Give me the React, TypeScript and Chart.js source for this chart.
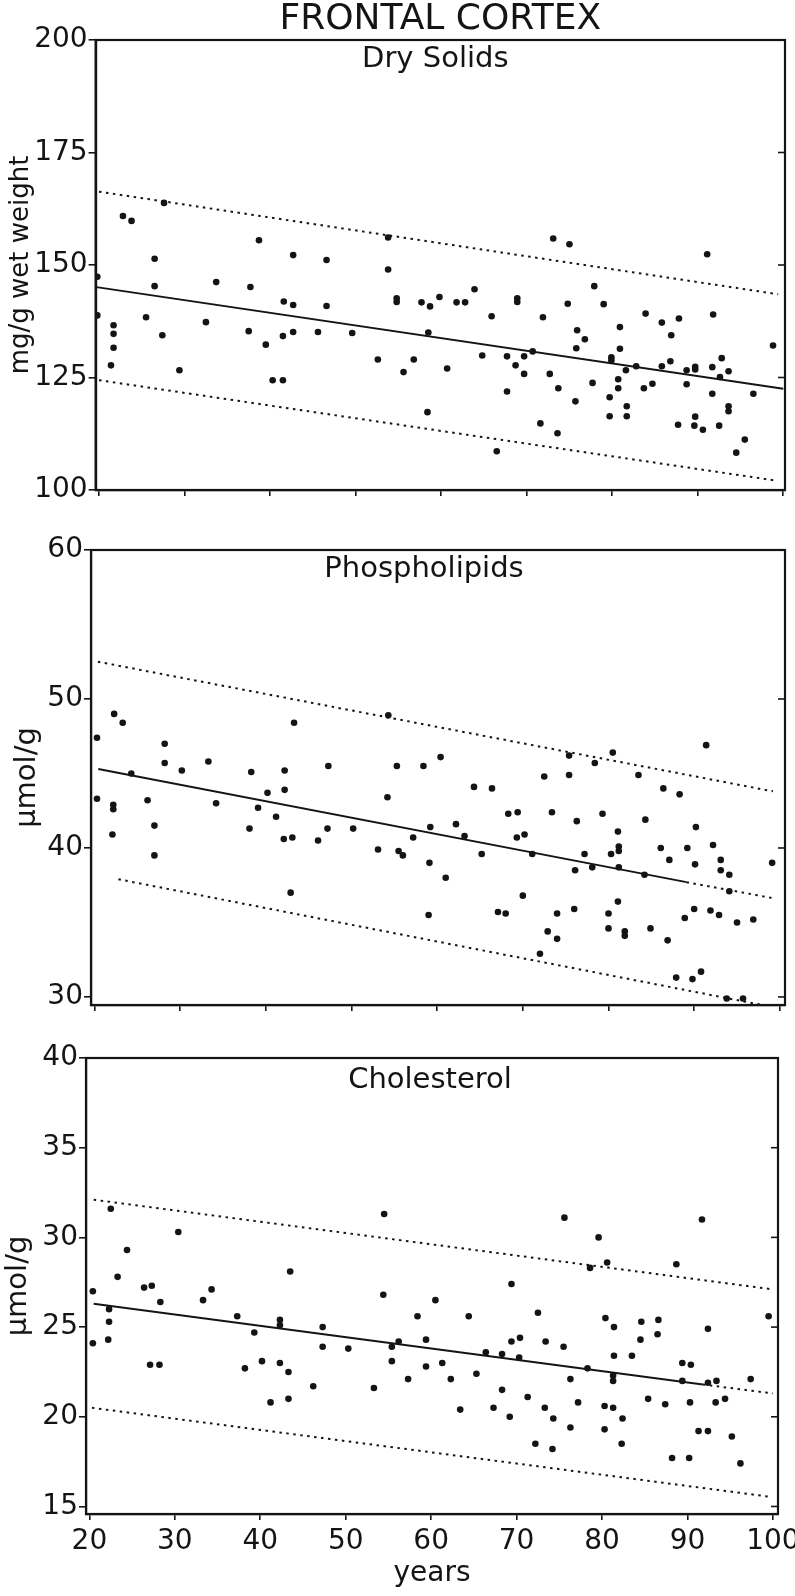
import React, { useEffect, useRef } from 'react';
import { Chart, registerables } from 'chart.js';

Chart.register(...registerables);

// ---------- tick labels ----------
const AGE_TICKS = [20, 30, 40, 50, 60, 70, 80, 90, 100];
const DRY_TICKS = [100, 125, 150, 175, 200];
const PHOS_TICKS = [30, 40, 50, 60];
const CHOL_TICKS = [15, 20, 25, 30, 35, 40];

// ---------- Dry Solids (mg/g wet weight) ----------
const dryAge = [
  19.8, 19.8, 21.7, 21.7, 21.7, 21.4, 22.8, 23.8, 27.6, 26.5, 26.5, 25.5, 27.4, 29.4, 32.5, 33.7,
  37.7, 37.5, 38.7, 39.5, 40.3, 41.5, 41.5, 41.6, 42.7, 42.7, 42.7, 45.6, 46.6, 46.6, 49.6, 52.6,
  53.8, 53.8, 54.8, 54.8, 57.7, 58.7, 59.8, 61.8, 62.8, 63.9, 65.9, 68.9, 68.9, 71.9, 73.1, 75.0,
  74.8, 77.9, 79.0, 91.1, 83.9, 85.8, 87.8, 91.8, 86.9, 80.9, 75.9, 76.8, 75.8, 80.9, 98.8, 58.5,
  56.8, 55.6, 60.7, 64.8, 67.7, 68.7, 69.7, 69.7, 70.7, 72.7, 73.7, 67.7, 77.7, 79.9, 79.9, 80.7,
  80.7, 79.7, 81.6, 75.7, 81.7, 81.7, 79.7, 82.8, 83.7, 84.7, 85.8, 86.8, 88.7, 88.7, 89.7, 89.7,
  91.7, 92.8, 93.6, 92.6, 91.7, 93.6, 93.6, 96.5, 89.7, 89.6, 90.6, 87.7, 92.5, 95.5, 94.5, 58.4,
  71.6, 73.6, 66.5,
];
const dryVal = [
  147.4, 138.8, 136.6, 134.7, 131.6, 127.7, 160.9, 159.8, 163.8, 151.4, 145.3, 138.4, 134.4, 126.6, 137.3, 146.2,
  145.1, 135.3, 155.5, 132.3, 124.4, 124.4, 134.2, 141.9, 141.1, 135.1, 152.2, 135.1, 151.1, 140.9, 134.9, 129.0,
  156.1, 149.0, 142.6, 141.8, 141.7, 140.8, 142.9, 141.7, 141.7, 144.6, 138.6, 142.6, 141.8, 138.4, 155.9, 154.6,
  141.4, 145.3, 141.3, 152.4, 139.2, 137.2, 138.1, 139.0, 134.4, 136.2, 135.5, 133.5, 131.5, 131.4, 132.1, 135.0,
  129.0, 126.2, 127.0, 129.9, 129.7, 127.7, 129.7, 125.8, 130.8, 125.8, 122.6, 121.9, 123.8, 129.5, 128.8, 124.6,
  122.6, 120.6, 126.6, 119.7, 118.6, 116.4, 116.4, 127.5, 122.6, 123.6, 127.5, 128.6, 126.6, 123.5, 127.4, 126.8,
  127.3, 129.3, 126.4, 125.1, 121.4, 118.6, 117.5, 121.4, 116.3, 114.3, 113.4, 114.5, 114.3, 111.2, 108.3, 117.3,
  114.8, 112.6, 108.6,
];
const dryFitAge = [19.7, 100];
const dryFit = [145.1, 122.5];
const dryUpperAge = [20, 99.4];
const dryUpper = [166.3, 143.5];
const dryLowerAge = [20, 99.1];
const dryLower = [124.4, 102.1];

// ---------- Phospholipids (µmol/g) ----------
const phosAge = [
  20.3, 20.3, 22.3, 23.3, 22.2, 22.2, 22.1, 24.3, 26.2, 27.0, 27.0, 28.2, 28.2, 30.2, 33.3, 34.2,
  38.3, 38.1, 39.1, 40.2, 41.2, 42.2, 42.2, 42.1, 43.1, 43.3, 42.9, 46.1, 47.3, 47.2, 50.2, 53.1,
  54.2, 54.3, 55.3, 55.5, 56.0, 58.4, 60.4, 57.2, 59.2, 59.1, 59.0, 61.0, 62.2, 63.2, 64.3, 66.4,
  65.2, 67.1, 68.0, 68.3, 69.4, 69.3, 70.2, 70.0, 71.1, 72.5, 73.4, 74.0, 72.9, 74.0, 72.0, 75.4,
  75.4, 76.3, 76.1, 76.0, 77.2, 78.1, 78.4, 79.3, 80.5, 80.0, 80.0, 80.3, 81.1, 81.2, 81.2, 81.2,
  81.1, 81.9, 81.9, 83.5, 84.3, 84.2, 84.9, 86.4, 88.3, 86.1, 87.1, 86.9, 87.9, 89.8, 90.8, 91.4,
  90.2, 89.2, 90.1, 88.9, 90.0, 91.9, 92.9, 92.2, 93.1, 93.1, 94.1, 94.1, 95.0, 96.9, 93.8, 95.7,
  99.1,
];
const phosVal = [
  47.4, 43.3, 49.0, 48.4, 42.9, 42.6, 40.9, 45.0, 43.2, 41.5, 39.5, 47.0, 45.7, 45.2, 45.8, 43.0,
  45.1, 41.3, 42.7, 43.7, 42.1, 45.2, 43.9, 40.6, 40.7, 48.4, 37.0, 40.5, 45.5, 41.3, 41.3, 39.9,
  43.4, 48.9, 45.5, 39.8, 39.5, 45.5, 46.1, 40.7, 41.4, 39.0, 35.5, 38.0, 41.6, 40.8, 44.1, 44.0,
  39.6, 35.7, 35.6, 42.3, 42.4, 40.7, 40.9, 36.8, 39.6, 44.8, 42.4, 35.6, 34.4, 33.9, 32.9, 46.2,
  44.9, 41.8, 38.5, 35.9, 39.6, 38.7, 45.7, 42.3, 46.4, 35.6, 34.6, 39.6, 41.1, 40.1, 39.8, 38.7,
  36.4, 34.4, 34.1, 44.9, 41.9, 38.2, 34.6, 44.0, 43.6, 40.0, 39.2, 33.8, 31.3, 31.2, 31.7, 46.9,
  41.4, 40.0, 38.9, 35.3, 35.9, 35.8, 35.5, 40.2, 39.2, 38.5, 38.2, 37.1, 35.0, 35.2, 29.9, 29.9,
  39.0,
];
const phosFitAge = [20.45, 89.1];
const phosFit = [45.3, 37.7];
const phosFitTailAge = [89.1, 99.5];
const phosFitTail = [37.7, 36.6];
const phosUpperAge = [20.4, 99.2];
const phosUpper = [52.5, 43.8];
const phosLowerAge = [22.8, 98.9];
const phosLower = [37.9, 29.35];

// ---------- Cholesterol (µmol/g) ----------
const cholAge = [
  20.4, 20.4, 22.5, 22.3, 22.3, 22.2, 23.3, 24.4, 26.4, 27.3, 27.1, 28.2, 28.3, 30.4, 33.3, 34.3,
  37.3, 38.2, 39.3, 40.2, 41.2, 42.3, 42.3, 42.3, 43.3, 43.3, 43.5, 46.2, 47.3, 47.3, 50.3, 53.3,
  54.5, 54.4, 55.4, 55.4, 56.2, 57.3, 58.4, 59.4, 59.4, 60.5, 61.3, 62.3, 63.4, 64.4, 65.3, 66.4,
  67.3, 68.3, 68.3, 69.4, 69.4, 70.4, 70.3, 69.2, 71.3, 72.2, 72.5, 73.4, 73.3, 74.3, 74.2, 75.5,
  75.6, 76.3, 76.3, 77.2, 78.3, 78.6, 79.6, 80.6, 80.4, 80.3, 80.3, 81.4, 81.4, 81.3, 81.3, 81.3,
  82.4, 82.3, 83.5, 84.6, 84.5, 85.4, 86.6, 86.5, 87.4, 88.2, 88.7, 89.4, 89.4, 90.4, 90.3, 90.2,
  91.3, 92.4, 91.7, 92.4, 92.4, 93.4, 93.3, 94.4, 95.2, 96.2, 97.4, 99.5,
];
const cholVal = [
  27.0, 24.1, 31.6, 26.0, 25.3, 24.3, 27.8, 29.3, 27.2, 27.3, 22.9, 22.9, 26.4, 30.3, 26.5, 27.1,
  25.6, 22.7, 24.7, 23.1, 20.8, 25.4, 25.1, 23.0, 22.5, 21.0, 28.1, 21.7, 25.0, 23.9, 23.8, 21.6,
  31.3, 26.8, 23.9, 23.1, 24.2, 22.1, 25.6, 24.3, 22.8, 26.5, 23.0, 22.1, 20.4, 25.6, 22.4, 23.6,
  20.5, 23.5, 21.5, 27.4, 24.2, 24.4, 23.3, 20.0, 21.1, 18.5, 25.8, 24.2, 20.5, 19.9, 18.2, 23.9,
  31.1, 22.1, 19.4, 20.8, 22.7, 28.3, 30.0, 28.6, 25.5, 20.6, 19.3, 25.0, 23.4, 22.3, 22.0, 20.5,
  19.9, 18.5, 23.4, 25.3, 24.3, 21.0, 25.4, 24.6, 20.7, 17.7, 28.5, 23.0, 22.0, 22.9, 20.8, 17.7,
  19.2, 19.2, 31.0, 24.9, 21.9, 22.0, 20.8, 21.0, 18.9, 17.4, 22.1, 25.6,
];
const cholFitAge = [20.5, 91.8];
const cholFit = [26.3, 21.8];
const cholFitTailAge = [91.8, 100];
const cholFitTail = [21.8, 21.3];
const cholUpperAge = [20.5, 100];
const cholUpper = [32.1, 27.1];
const cholLowerAge = [20.3, 99.5];
const cholLower = [20.5, 15.55];

// ---------- styling / layout ----------
const INK = '#141414';
const FONT = 'DejaVu Sans';
const PAGE_W = 795;

Chart.defaults.font.family = FONT;
Chart.defaults.color = INK;

type XY = { x: number; y: number };
const pts = (xs: number[], ys: number[]): XY[] => xs.map((x, i) => ({ x, y: ys[i] }));

type LineSpec = { xs: number[]; ys: number[]; dashed: boolean };

type Panel = {
  key: string;
  top: number;
  height: number;
  padTop: number;
  padRight: number;
  yWidth: number;
  xHeight: number;
  xMin: number;
  xMax: number;
  yMin: number;
  yMax: number;
  yTicks: number[];
  yTitle: string;
  yTitleSize: number;
  yTitlePad: number;
  label: string;
  labelDx: number;
  labelDy: number;
  mainTitle?: string;
  showXLabels: boolean;
  ages: number[];
  values: number[];
  lines: LineSpec[];
};

const PANELS: Panel[] = [
  {
    key: 'dry',
    top: 0,
    height: 520,
    padTop: 0,
    padRight: 10,
    yWidth: 95.6,
    xHeight: 30,
    xMin: 19.6,
    xMax: 100.2,
    yMin: 100,
    yMax: 200,
    yTicks: DRY_TICKS,
    yTitle: 'mg/g wet weight',
    yTitleSize: 26,
    yTitlePad: 6,
    label: 'Dry Solids',
    labelDx: -5,
    labelDy: 27,
    mainTitle: 'FRONTAL CORTEX',
    showXLabels: false,
    ages: dryAge,
    values: dryVal,
    lines: [
      { xs: dryFitAge, ys: dryFit, dashed: false },
      { xs: dryUpperAge, ys: dryUpper, dashed: true },
      { xs: dryLowerAge, ys: dryLower, dashed: true },
    ],
  },
  {
    key: 'phos',
    top: 520,
    height: 520,
    padTop: 30,
    padRight: 10,
    yWidth: 91,
    xHeight: 35,
    xMin: 19.6,
    xMax: 100.6,
    yMin: 29.46,
    yMax: 60,
    yTicks: PHOS_TICKS,
    yTitle: 'µmol/g',
    yTitleSize: 29,
    yTitlePad: 10,
    label: 'Phospholipids',
    labelDx: -14,
    labelDy: 27,
    showXLabels: false,
    ages: phosAge,
    values: phosVal,
    lines: [
      { xs: phosFitAge, ys: phosFit, dashed: false },
      { xs: phosFitTailAge, ys: phosFitTail, dashed: true },
      { xs: phosUpperAge, ys: phosUpper, dashed: true },
      { xs: phosLowerAge, ys: phosLower, dashed: true },
    ],
  },
  {
    key: 'chol',
    top: 1040,
    height: 556,
    padTop: 18,
    padRight: 17,
    yWidth: 86,
    xHeight: 82,
    xMin: 19.6,
    xMax: 100.6,
    yMin: 14.58,
    yMax: 40,
    yTicks: CHOL_TICKS,
    yTitle: 'µmol/g',
    yTitleSize: 29,
    yTitlePad: 1,
    label: 'Cholesterol',
    labelDx: -2,
    labelDy: 30,
    showXLabels: true,
    ages: cholAge,
    values: cholVal,
    lines: [
      { xs: cholFitAge, ys: cholFit, dashed: false },
      { xs: cholFitTailAge, ys: cholFitTail, dashed: true },
      { xs: cholUpperAge, ys: cholUpper, dashed: true },
      { xs: cholLowerAge, ys: cholLower, dashed: true },
    ],
  },
];

// frame, inward right-hand ticks and in-panel label
const framePlugin = {
  id: 'frame',
  afterDraw(chart: any, _args: any, opts: any) {
    const { ctx, chartArea } = chart;
    const { left, right, top, bottom } = chartArea;
    ctx.save();
    ctx.strokeStyle = INK;
    ctx.lineWidth = 2.2;
    ctx.strokeRect(left, top, right - left, bottom - top);
    const y = chart.scales.y;
    ctx.lineWidth = 1.6;
    for (const t of y.ticks) {
      const py = y.getPixelForValue(t.value);
      ctx.beginPath();
      ctx.moveTo(right, py);
      ctx.lineTo(right - 7, py);
      ctx.stroke();
    }
    ctx.fillStyle = INK;
    ctx.font = `29px "${FONT}"`;
    ctx.textAlign = 'center';
    ctx.textBaseline = 'alphabetic';
    ctx.fillText(opts.text, (left + right) / 2 + opts.dx, top + opts.dy);
    ctx.restore();
  },
};

function buildConfig(p: Panel): any {
  const lineSets = p.lines.map((l) => ({
    type: 'scatter',
    data: pts(l.xs, l.ys),
    showLine: true,
    borderColor: INK,
    borderWidth: l.dashed ? 2 : 1.8,
    borderDash: l.dashed ? [2.5, 4.5] : [],
    pointRadius: 0,
    fill: false,
  }));
  const pointSet = {
    type: 'scatter',
    data: pts(p.ages, p.values),
    showLine: false,
    pointRadius: 3.3,
    pointBackgroundColor: INK,
    pointBorderWidth: 0,
    pointBorderColor: INK,
  };
  const tickFont = { family: FONT, size: 28 };
  return {
    type: 'scatter',
    data: { datasets: [pointSet, ...lineSets] },
    plugins: [framePlugin],
    options: {
      animation: false,
      responsive: false,
      events: [],
      layout: { padding: { left: 0, right: p.padRight, top: p.padTop, bottom: 0 } },
      plugins: {
        legend: { display: false },
        tooltip: { enabled: false },
        title: p.mainTitle
          ? {
              display: true,
              text: p.mainTitle,
              fullSize: false,
              color: INK,
              font: { family: FONT, size: 36, weight: 'normal', lineHeight: 1 },
              padding: { top: 2, bottom: 2 },
            }
          : { display: false },
        frame: { text: p.label, dx: p.labelDx, dy: p.labelDy },
      },
      scales: {
        x: {
          type: 'linear',
          position: 'bottom',
          min: p.xMin,
          max: p.xMax,
          afterBuildTicks: (s: any) => {
            s.ticks = AGE_TICKS.map((v) => ({ value: v }));
          },
          afterFit: (s: any) => {
            s.height = p.xHeight;
            s.paddingLeft = 0;
            s.paddingRight = 0;
          },
          grid: {
            display: true,
            drawOnChartArea: false,
            drawTicks: true,
            tickLength: 6,
            color: INK,
            lineWidth: 1.6,
          },
          border: { display: true, color: INK, width: 2.2 },
          ticks: {
            display: p.showXLabels,
            font: tickFont,
            color: INK,
            padding: 5,
            maxRotation: 0,
            minRotation: 0,
            autoSkip: false,
            callback: (v: any) => String(v),
          },
          title: p.showXLabels
            ? {
                display: true,
                text: 'years',
                color: INK,
                font: { family: FONT, size: 28, lineHeight: 1.2 },
                padding: { top: 0, bottom: 5 },
              }
            : { display: false },
        },
        y: {
          type: 'linear',
          position: 'left',
          min: p.yMin,
          max: p.yMax,
          afterBuildTicks: (s: any) => {
            s.ticks = p.yTicks.map((v) => ({ value: v }));
          },
          afterFit: (s: any) => {
            s.width = p.yWidth;
            s.paddingTop = 0;
            s.paddingBottom = 0;
          },
          grid: {
            display: true,
            drawOnChartArea: false,
            drawTicks: true,
            tickLength: 7,
            color: INK,
            lineWidth: 1.6,
          },
          border: { display: true, color: INK, width: 2.2 },
          ticks: {
            font: tickFont,
            color: INK,
            padding: 1,
            autoSkip: false,
            callback: (v: any) => String(v),
          },
          title: {
            display: true,
            text: p.yTitle,
            color: INK,
            font: { family: FONT, size: p.yTitleSize, lineHeight: 1.2 },
            padding: { top: p.yTitlePad, bottom: 0 },
          },
        },
      },
    },
  };
}

function PanelChart({ panel }: { panel: Panel }) {
  const ref = useRef<HTMLCanvasElement | null>(null);
  useEffect(() => {
    if (!ref.current) return;
    const chart = new Chart(ref.current, buildConfig(panel));
    return () => chart.destroy();
  }, [panel]);
  return (
    <div
      style={{
        position: 'absolute',
        left: 0,
        top: panel.top,
        width: PAGE_W,
        height: panel.height,
      }}
    >
      <canvas
        ref={ref}
        width={PAGE_W}
        height={panel.height}
        style={{ display: 'block', width: PAGE_W, height: panel.height }}
      />
    </div>
  );
}

export default function App() {
  return (
    <div
      style={{
        position: 'absolute',
        left: 0,
        top: 0,
        width: PAGE_W,
        height: 1596,
        background: '#ffffff',
        overflow: 'hidden',
      }}
    >
      {PANELS.map((p) => (
        <PanelChart key={p.key} panel={p} />
      ))}
    </div>
  );
}
